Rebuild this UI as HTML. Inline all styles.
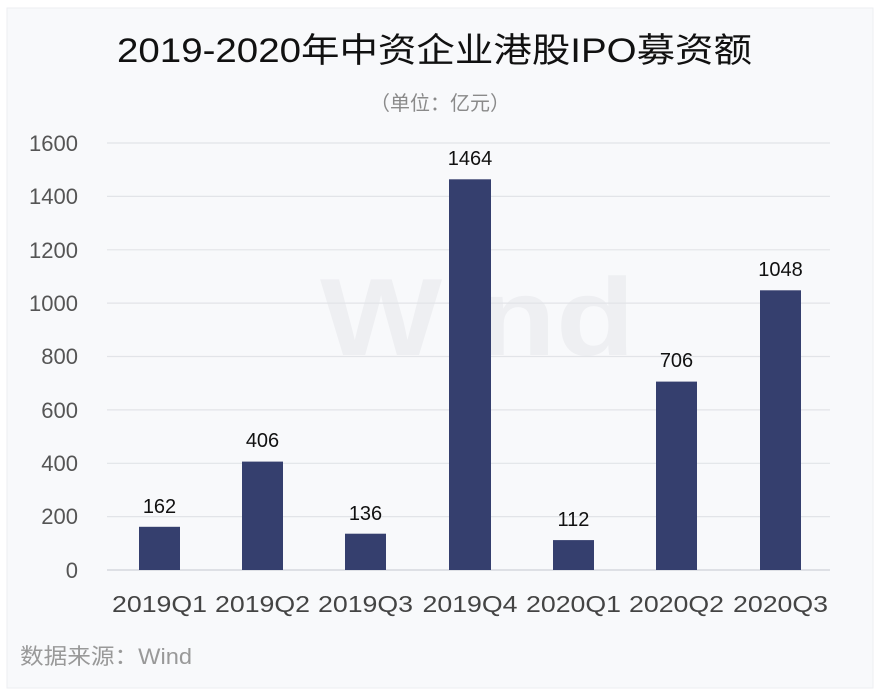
<!DOCTYPE html>
<html><head><meta charset="utf-8"><style>
html,body{margin:0;padding:0;background:#fff;}
svg{display:block;font-family:"Liberation Sans","Noto Sans CJK SC",sans-serif;}
</style></head><body>
<svg width="880" height="693" viewBox="0 0 880 693">
<rect x="0" y="0" width="880" height="693" fill="#ffffff"/>
<rect x="7" y="8" width="866" height="680" fill="#f8f9fb" stroke="#eceef2" stroke-width="1"/>
<text x="117" y="62" font-size="34" fill="#111" textLength="635" lengthAdjust="spacingAndGlyphs">2019-2020年中资企业港股IPO募资额</text>
<text x="440" y="110" text-anchor="middle" font-size="20" fill="#8a8a8a">（单位：亿元）</text>
<text x="320" y="355" font-size="110" font-weight="bold" fill="#eeeff2" textLength="315" lengthAdjust="spacingAndGlyphs">Wind</text>
<g stroke="#e2e4e8" stroke-width="1.2">
<line x1="107" x2="830" y1="143" y2="143"/>
<line x1="107" x2="830" y1="196.4" y2="196.4"/>
<line x1="107" x2="830" y1="249.8" y2="249.8"/>
<line x1="107" x2="830" y1="303.1" y2="303.1"/>
<line x1="107" x2="830" y1="356.5" y2="356.5"/>
<line x1="107" x2="830" y1="409.9" y2="409.9"/>
<line x1="107" x2="830" y1="463.3" y2="463.3"/>
<line x1="107" x2="830" y1="516.6" y2="516.6"/>
</g>
<line x1="107" x2="830" y1="570" y2="570" stroke="#cfd2d8" stroke-width="1.2"/>
<g font-size="22" fill="#555" text-anchor="end">
<text x="78" y="151">1600</text>
<text x="78" y="204">1400</text>
<text x="78" y="258">1200</text>
<text x="78" y="311">1000</text>
<text x="78" y="364">800</text>
<text x="78" y="418">600</text>
<text x="78" y="471">400</text>
<text x="78" y="524">200</text>
<text x="78" y="578">0</text>
</g>
<g fill="#353f6e">
<rect x="139" y="526.8" width="41" height="43.2"/>
<rect x="242" y="461.6" width="41" height="108.4"/>
<rect x="345" y="533.7" width="41" height="36.3"/>
<rect x="449" y="179.3" width="42" height="390.7"/>
<rect x="553" y="540.1" width="41" height="29.9"/>
<rect x="656" y="381.6" width="41" height="188.4"/>
<rect x="760" y="290.3" width="41" height="279.7"/>
</g>
<g font-size="20" fill="#111" text-anchor="middle">
<text x="159.5" y="513">162</text>
<text x="262.5" y="447">406</text>
<text x="365.5" y="520">136</text>
<text x="470" y="165">1464</text>
<text x="573.5" y="526">112</text>
<text x="676.5" y="367">706</text>
<text x="780.5" y="276">1048</text>
</g>
<g font-size="23" fill="#444" text-anchor="middle">
<text x="159.5" y="612" textLength="95" lengthAdjust="spacingAndGlyphs">2019Q1</text>
<text x="262.5" y="612" textLength="95" lengthAdjust="spacingAndGlyphs">2019Q2</text>
<text x="365.5" y="612" textLength="95" lengthAdjust="spacingAndGlyphs">2019Q3</text>
<text x="470" y="612" textLength="95" lengthAdjust="spacingAndGlyphs">2019Q4</text>
<text x="573.5" y="612" textLength="95" lengthAdjust="spacingAndGlyphs">2020Q1</text>
<text x="676.5" y="612" textLength="95" lengthAdjust="spacingAndGlyphs">2020Q2</text>
<text x="780.5" y="612" textLength="95" lengthAdjust="spacingAndGlyphs">2020Q3</text>
</g>
<text x="20" y="664" font-size="22" fill="#999" textLength="172" lengthAdjust="spacingAndGlyphs">数据来源：Wind</text>
</svg>
</body></html>
